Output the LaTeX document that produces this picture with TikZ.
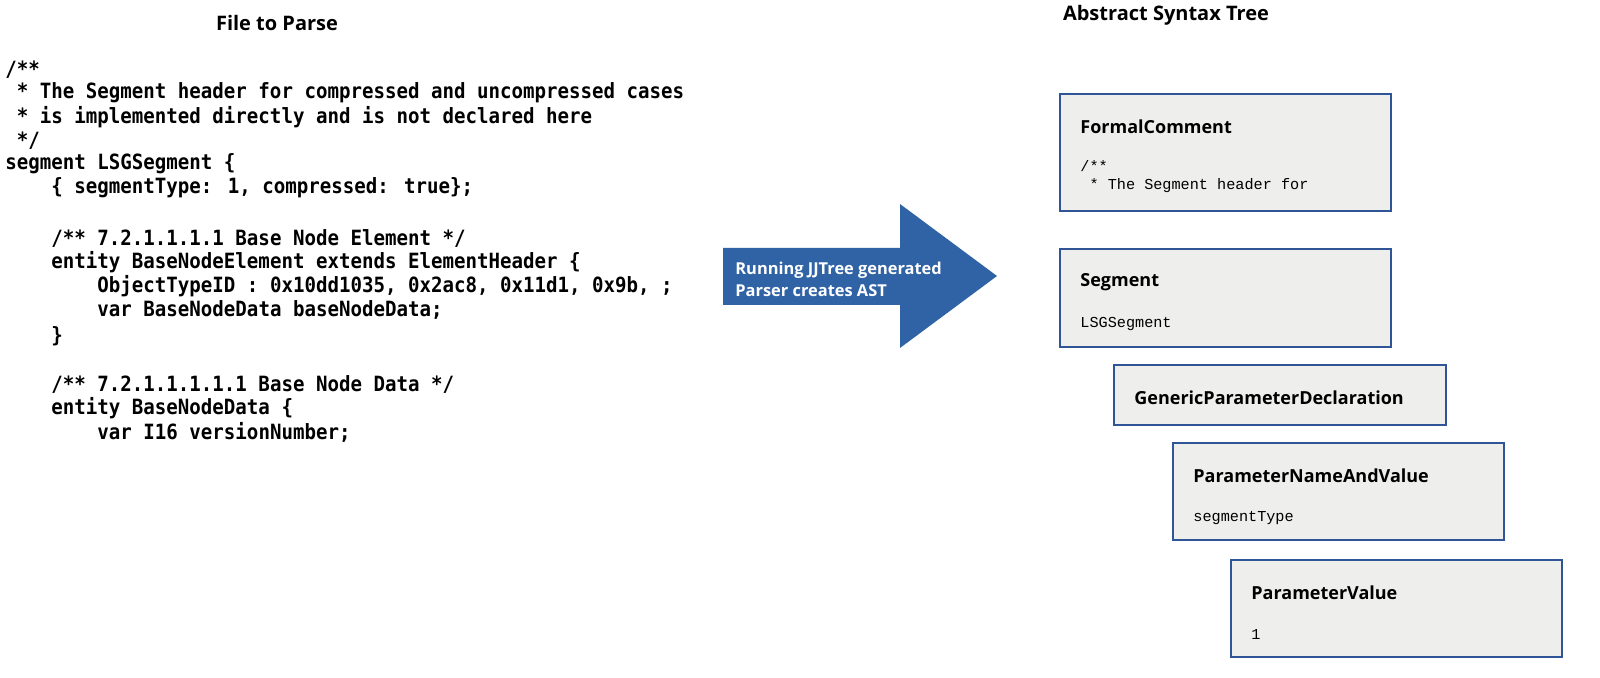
\documentclass[tikz,border=0pt]{standalone}
\usepackage{fontspec}
\setmainfont{Open Sans}
\newfontfamily\codefont{Liberation Mono}
\newfontfamily\codecond{DejaVu Sans Mono}[FakeStretch=0.91]
\begin{document}
\begin{tikzpicture}[x=0.5pt,y=-0.5pt,
  codeln/.style={anchor=west,inner sep=0pt,font=\codecond\bfseries\fontsize{10.5}{12}\selectfont},
  astbox/.style={draw=boxblue,line width=1pt,fill=boxgray},
  asttitle/.style={anchor=west,inner sep=0pt,font=\bfseries\fontsize{9}{11}\selectfont},
  astval/.style={anchor=west,inner sep=0pt,font=\codefont\fontsize{7.6}{9}\selectfont},
  head/.style={inner sep=0pt,font=\bfseries\fontsize{10}{12}\selectfont}]
\definecolor{boxblue}{HTML}{2F5597}
\definecolor{boxgray}{HTML}{EEEEEC}
\definecolor{arrblue}{HTML}{3063A5}
\node[head] (t1) at (277,23) {File to Parse};
\node[head] (t2) at (1166,15) {Abstract Syntax Tree};
% code
\foreach \y/\t in {70/{/**},93/{\ * The Segment header for compressed and uncompressed cases},
 117/{\ * is implemented directly and is not declared here},141/{\ */},
 164/{segment LSGSegment \{},188/{\ \ \ \ \{ segmentType: 1, compressed: true\};},
 238/{\ \ \ \ /** 7.2.1.1.1.1 Base Node Element */},
 262/{\ \ \ \ entity BaseNodeElement extends ElementHeader \{},
 286/{\ \ \ \ \ \ \ \ ObjectTypeID : 0x10dd1035, 0x2ac8, 0x11d1, 0x9b, ;},
 310/{\ \ \ \ \ \ \ \ var BaseNodeData baseNodeData;},
 336/{\ \ \ \ \}},
 384/{\ \ \ \ /** 7.2.1.1.1.1.1 Base Node Data */},
 408/{\ \ \ \ entity BaseNodeData \{},
 432/{\ \ \ \ \ \ \ \ var I16 versionNumber;}}
 {\node[codeln] at (5,\y) {\t};}
% arrow
\fill[arrblue] (723,248) -- (900,248) -- (900,204) -- (997,276) -- (900,348) -- (900,305) -- (723,305) -- cycle;
\node[anchor=west,inner sep=0pt,text=white,align=left,font=\bfseries\fontsize{8.2}{11}\selectfont] (arrtxt) at (735,279) {Running JJTree generated\\Parser creates AST};
% boxes
\draw[astbox] (1060,94) rectangle (1391,211);
\node[asttitle] (fc) at (1080,127) {FormalComment};
\node[astval,align=left] (fcv) at (1080,177) {/**\\\ * The Segment header for};
\draw[astbox] (1060,249) rectangle (1391,347);
\node[asttitle] (sg) at (1080,282) {Segment};
\node[astval] (sgv) at (1080,324) {LSGSegment};
\draw[astbox] (1114,365) rectangle (1446,425);
\node[asttitle] (gp) at (1134,398) {GenericParameterDeclaration};
\draw[astbox] (1173,443) rectangle (1504,540);
\node[asttitle] (pn) at (1193,476) {ParameterNameAndValue};
\node[astval] (pnv) at (1193,518) {segmentType};
\draw[astbox] (1231,560) rectangle (1562,657);
\node[asttitle] (pv) at (1251,593) {ParameterValue};
\node[astval] (pvv) at (1251,634) {1};
\pgfresetboundingbox
\useasboundingbox (0,0) rectangle (1600,678);
\end{tikzpicture}
\end{document}
